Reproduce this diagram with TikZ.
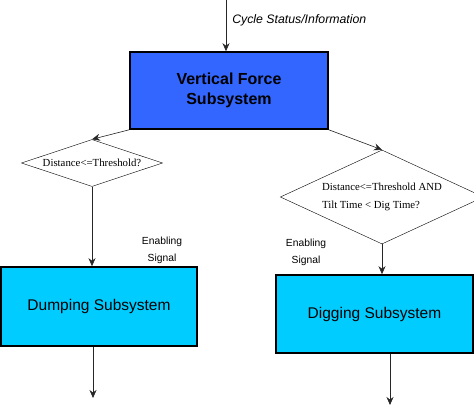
\documentclass[tikz,border=0pt]{standalone}
\usepackage{fontspec}
\setmainfont{Liberation Serif}
\setsansfont{Liberation Sans}
\usetikzlibrary{arrows.meta,positioning,shapes.geometric}
\definecolor{vfblue}{RGB}{51,102,255}
\definecolor{subcyan}{RGB}{0,204,255}
\begin{document}
\begin{tikzpicture}[x=1pt,y=-1pt,>={Stealth[length=8pt,width=7pt]},semithick,flow/.style={->,draw=black!85},subsys/.style={rectangle, draw=black, line width=1.6pt, inner sep=0pt, align=center, font=\sffamily\fontsize{15.5}{20}\selectfont},test/.style={diamond, draw=black, thin, aspect=3, inner sep=0pt, align=left, font=\fontsize{10.8}{18}\selectfont},note/.style={align=center, inner sep=0pt, font=\sffamily\fontsize{10.3}{17}\selectfont}]
\useasboundingbox (0,0) rectangle (474,406);
\node[subsys, fill=vfblue, minimum width=198, minimum height=77, font=\sffamily\bfseries\fontsize{16}{20}\selectfont] (vf) at (229,90.5) {Vertical Force\\Subsystem};
\node[test, minimum width=141, minimum height=47] (d1) at (92,163) {Distance<=Threshold?};
\node[test, minimum width=183, minimum height=94] (d2) at (382,197) {Distance<=Threshold AND\\Tilt Time < Dig Time?};
\node[subsys, fill=subcyan, minimum width=196, minimum height=79] (dump) at (99,306.5) {Dumping Subsystem};
\node[subsys, fill=subcyan, minimum width=197, minimum height=78] (dig) at (374.5,314) {Digging Subsystem};
\coordinate (in) at (226,0);
\coordinate (dumpout) at (93,398);
\coordinate (digout) at (390,405);
\node[anchor=west, inner sep=0pt, font=\sffamily\itshape\fontsize{12.3}{14}\selectfont] (cyc) at (232,20) {Cycle Status/Information};
\node[note] (en1) at (162,250.5) {Enabling\\Signal};
\node[note] (en2) at (306,252.5) {Enabling\\Signal};
\draw[flow] (in) -- (in |- vf.north);
\draw[flow] (vf.south west) -- (d1.north);
\draw[flow] (vf.south east) -- (d2.north);
\draw[flow] (d1.south) -- (d1.south |- dump.north);
\draw[flow] (d2.south) -- (d2.south |- dig.north);
\draw[flow] (dumpout |- dump.south) -- (dumpout);
\draw[flow] (digout |- dig.south) -- (digout);
\end{tikzpicture}
\end{document}
